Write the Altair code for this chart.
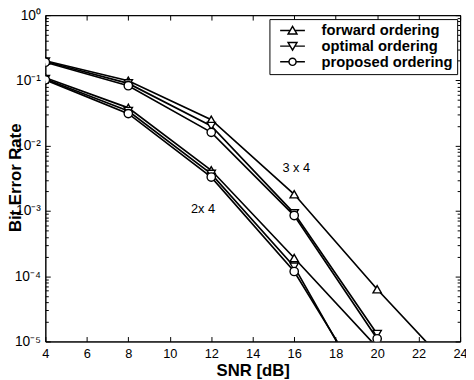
import altair as alt
import pandas as pd

# ---------------- data ----------------
snr = [4, 8, 12, 16, 20, 24]
orderings = ["forward ordering", "optimal ordering", "proposed ordering"]

ber_3x4_forward = [0.2, 0.099, 0.025, 0.0018, 6.3e-5, 2.75e-6]
ber_3x4_optimal = [0.195, 0.09, 0.02, 0.00092, 1.3e-5]
ber_3x4_proposed = [0.19, 0.083, 0.016, 0.00085, 1.1e-5]
ber_2x4_forward = [0.11, 0.038, 0.0042, 0.00019, 8.1e-6]
ber_2x4_optimal = [0.105, 0.034, 0.0037, 0.00014, 8e-7]
ber_2x4_proposed = [0.102, 0.031, 0.0033, 0.000118, 1e-6]

annot_text = ["3 x 4", "2x 4"]
annot_snr = [16.1, 11.6]
annot_ber = [0.0045, 0.00107]

x_ticks = [4, 6, 8, 10, 12, 14, 16, 18, 20, 22, 24]
y_major = [1, 0.1, 0.01, 0.001, 0.0001, 0.00001]
y_major_labels = ["10⁰", "10⁻¹", "10⁻²", "10⁻³", "10⁻⁴", "10⁻⁵"]
y_minor = [round(k * 10.0 ** e, 12) for e in range(-5, 0) for k in range(2, 10)]

series = [
    ("3x4", "forward ordering", ber_3x4_forward),
    ("3x4", "optimal ordering", ber_3x4_optimal),
    ("3x4", "proposed ordering", ber_3x4_proposed),
    ("2x4", "forward ordering", ber_2x4_forward),
    ("2x4", "optimal ordering", ber_2x4_optimal),
    ("2x4", "proposed ordering", ber_2x4_proposed),
]
rows = []
for cfg, ordn, vals in series:
    for s, b in zip(snr, vals):
        rows.append({"snr": s, "ber": b, "config": cfg, "ordering": ordn,
                     "series": cfg + " " + ordn})
df = pd.DataFrame(rows)

df_annot = pd.DataFrame({"snr": annot_snr, "ber": annot_ber, "text": annot_text})
# legend helper rows (placed outside the domain, clipped away)
df_leg = pd.DataFrame({"snr": [10, 10, 10], "ber": [1e-9, 1e-9, 1e-9], "ordering": orderings})

FONT = "Liberation Sans"
W, H = 422, 332

x_scale = alt.Scale(domain=[4, 24], nice=False, zero=False)
y_scale = alt.Scale(type="log", domain=[1e-5, 1], nice=False)

label_expr = " : ".join(
    f"datum.value == {v} ? '{l}'" for v, l in zip(y_major, y_major_labels)
) + " : ''"
major_test = "indexof([" + ",".join(str(v) for v in y_major) + "], datum.value) >= 0"
y_grid_dash = {"condition": {"test": major_test, "value": [5, 3000]}, "value": [3, 3000]}

y_vals = y_major + y_minor

common_axis = dict(ticks=False, grid=True, gridColor="black", gridOpacity=1, gridWidth=1,
                   domainColor="black", domainWidth=1, labelFont=FONT, labelColor="black")

x_bottom = alt.Axis(values=x_ticks, gridDash=[5, 3000], labelFontSize=13, labelPadding=6,
                    labelFlush=False, title="SNR [dB]", titleFont=FONT, titleFontSize=17,
                    titleFontWeight="bold", titleColor="black", titlePadding=3, **common_axis)
y_left = alt.Axis(values=y_vals, gridDash=y_grid_dash, labelExpr=label_expr, labelFontSize=14,
                  labelPadding=5, labelFlush=False, title="Bit Error Rate", titleFont=FONT,
                  titleFontSize=17, titleFontWeight="bold", titleColor="black",
                  titleX=-30, titleY=165, titleAngle=-90, titleAlign="center",
                  titleBaseline="middle", **common_axis)
x_top = alt.Axis(orient="top", values=x_ticks, gridDash=[5, 3000], labels=False, title=None,
                 **common_axis)
y_right = alt.Axis(orient="right", values=y_vals, gridDash=y_grid_dash, labels=False,
                   title=None, **common_axis)

lines = alt.Chart(df).mark_line(color="black", strokeWidth=1.7, clip=True).encode(
    x=alt.X("snr:Q", scale=x_scale, axis=x_bottom),
    y=alt.Y("ber:Q", scale=y_scale, axis=y_left),
    detail="series:N",
)

points = alt.Chart(df).mark_point(filled=True, fill="white", stroke="black", strokeWidth=1.4,
                                  opacity=1, size=72, clip=True).encode(
    x=alt.X("snr:Q", scale=x_scale, axis=x_top),
    y=alt.Y("ber:Q", scale=y_scale, axis=y_right),
    shape=alt.Shape("ordering:N",
                    scale=alt.Scale(domain=orderings,
                                    range=["triangle-up", "triangle-down", "circle"]),
                    legend=None),
)

stub = "M-2.8,0L-0.53,0M0.53,0L2.8,0"
leg_paths = [
    stub + "M0,-0.9L1,0.8L-1,0.8Z",
    stub + "M0,0.9L1,-0.8L-1,-0.8Z",
    "M-2.8,0L-0.8,0M0.8,0L2.8,0M0.8,0A0.8,0.8 0 1 1 -0.8,0A0.8,0.8 0 1 1 0.8,0Z",
]

legend_layer = alt.Chart(df_leg).mark_point(filled=True, fill="white", stroke="black",
                                            strokeWidth=1.5, opacity=1, clip=True).encode(
    x=alt.X("snr:Q", scale=x_scale, axis=None),
    y=alt.Y("ber:Q", scale=y_scale, axis=None),
    shape=alt.Shape("ordering:N",
                    scale=alt.Scale(domain=orderings, range=leg_paths),
                    legend=alt.Legend(title=None, orient="none", legendX=228, legendY=4,
                                      fillColor="white", strokeColor="black", padding=4,
                                      labelFont=FONT, labelFontSize=15,
                                      labelFontWeight="bold", labelColor="black",
                                      labelExpr="datum.label + '    '",
                                      labelLimit=300, symbolSize=81, symbolStrokeWidth=1.5,
                                      symbolOffset=12, labelOffset=22, rowPadding=-5)),
)

texts = alt.Chart(df_annot).mark_text(font=FONT, fontSize=13, color="black").encode(
    x=alt.X("snr:Q", scale=x_scale, axis=None),
    y=alt.Y("ber:Q", scale=y_scale, axis=None),
    text="text:N",
)

chart = alt.layer(lines, points, legend_layer, texts).resolve_axis(
    x="independent", y="independent"
).resolve_scale(shape="independent").properties(
    width=W, height=H,
    autosize=alt.AutoSizeParams(type="none"),
    padding={"left": 38, "top": 4, "right": 6, "bottom": 40},
    background="white",
).configure_view(stroke="black", strokeWidth=1)

chart.save("out.html", embed_options={"renderer": "svg", "actions": False})
